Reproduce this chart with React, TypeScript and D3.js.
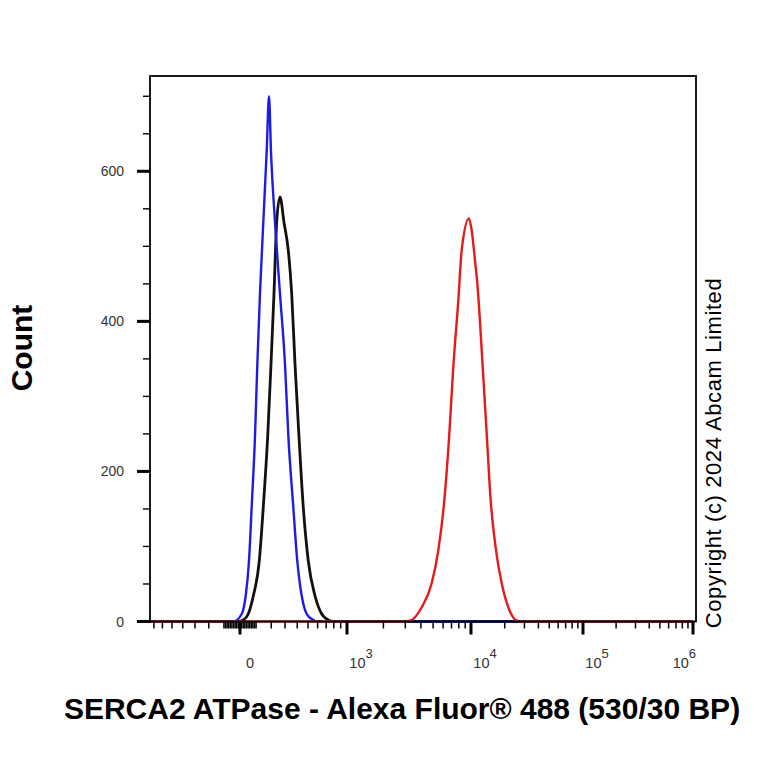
import React from "react";
import * as d3 from "d3";

// histogram traces: [fluorescence intensity, count]
const unstainedBlue: [number, number][] = [
  [-41, 0], [10.5, 10], [35, 34], [55.6, 81], [72.4, 153], [93.2, 247],
  [107.8, 342], [125, 437], [146.6, 532], [169, 627], [184.6, 700],
  [198, 627], [226, 532], [262, 437], [300, 342], [326, 247], [366, 153],
  [400, 81], [440, 34], [487, 10], [553, 2], [590, 0],
];

const isotypeBlack: [number, number][] = [
  [-10.5, 0], [20, 2], [51, 10], [82.5, 34], [120.6, 81], [146.6, 153],
  [175.8, 247], [198, 342], [219, 437], [238, 532], [262, 566], [292, 532],
  [326, 494], [353, 437], [381, 342], [415, 247], [454, 153], [502, 81],
  [572, 34], [647, 10], [727, 2], [793, 0],
];

const sercaRed: [number, number][] = [
  [2875, 0], [3271, 1], [4055, 19], [4872, 51], [5498, 95], [6137, 161],
  [6725, 250], [7235, 339], [7928, 428], [8437, 495], [9640, 537], [10146, 521],
  [10858, 481], [11384, 451], [12722, 339], [13812, 250], [14994, 161],
  [16720, 95], [18800, 51], [21530, 19], [25590, 1], [28360, 0],
];

const yMajor = [0, 200, 400, 600];
const yMinor = [50, 100, 150, 250, 300, 350, 450, 500, 550, 650, 700];
const xMajor = [0, 1e3, 1e4, 1e5, 1e6];
const xExponents = [null, 3, 4, 5, 6];

const xMin = -750;
const xMax = 1e6;
const yMax = 727;

const frame = { left: 150, top: 76, right: 696, bottom: 621.5 };

// biexponential-style display: arcsinh transform, piecewise per decade
const cofactor = 400;
const asinhT = (v: number) => Math.asinh(v / cofactor);
const decadePx = [150, 240, 347, 471, 583, 693];
const xt = d3
  .scaleLinear()
  .domain([xMin, ...xMajor].map(asinhT))
  .range(decadePx);
const x = (v: number) => xt(asinhT(v));

const y = d3.scaleLinear().domain([0, yMax]).range([frame.bottom, frame.top]);

const minorX: number[] = [];
[10, 100, 1000, 10000, 100000].forEach((p) => {
  for (let k = 1; k <= 9; k++) {
    minorX.push(k * p, -k * p);
  }
});
const xMinorTicks = minorX.filter(
  (v) => v >= xMin && v <= xMax && !xMajor.includes(v)
);

const histLine = d3
  .line<[number, number]>()
  .x((d) => x(d[0]))
  .y((d) => y(d[1]))
  .curve(d3.curveMonotoneX);

const withBaseline = (pts: [number, number][]): [number, number][] => [
  [xMin, 0],
  ...pts,
  [xMax, 0],
];

const font = "'Liberation Sans', Arial, Helvetica, sans-serif";

export default function App() {
  return (
    <svg
      width={768}
      height={768}
      style={{ display: "block", position: "absolute", left: 0, top: 0 }}
    >
      <rect width={768} height={768} fill="#fff" />

      {/* traces */}
      {[
        { data: isotypeBlack, color: "#111111", w: 2.8 },
        { data: unstainedBlue, color: "#1c1ce6", w: 2.4 },
        { data: sercaRed, color: "#e61a1a", w: 2.4 },
      ].map((s, i) => (
        <path
          key={i}
          d={histLine(withBaseline(s.data)) || ""}
          fill="none"
          stroke={s.color}
          strokeWidth={s.w}
          strokeLinejoin="round"
        />
      ))}

      {/* frame */}
      <rect
        x={frame.left}
        y={frame.top}
        width={frame.right - frame.left}
        height={frame.bottom - frame.top}
        fill="none"
        stroke="#000"
        strokeWidth={1.8}
      />

      {/* y axis */}
      {yMajor.map((v) => (
        <g key={"ym" + v}>
          <line
            x1={frame.left - 13}
            x2={frame.left}
            y1={y(v)}
            y2={y(v)}
            stroke="#000"
            strokeWidth={3}
          />
          <text
            x={frame.left - 26}
            y={y(v) + 5}
            textAnchor="end"
            fontFamily={font}
            fontSize={14}
            fill="#333"
          >
            {v}
          </text>
        </g>
      ))}
      {yMinor.map((v) => (
        <line
          key={"yn" + v}
          x1={frame.left - 7}
          x2={frame.left}
          y1={y(v)}
          y2={y(v)}
          stroke="#000"
          strokeWidth={1.4}
        />
      ))}

      {/* x axis */}
      {xMinorTicks.map((v) => (
        <line
          key={"xn" + v}
          x1={x(v)}
          x2={x(v)}
          y1={frame.bottom}
          y2={frame.bottom + 7}
          stroke="#000"
          strokeWidth={1.5}
        />
      ))}
      {xMajor.map((v, i) => {
        const exp = xExponents[i];
        const last = i === xMajor.length - 1;
        return (
          <g key={"xm" + v}>
            <line
              x1={x(v)}
              x2={x(v)}
              y1={frame.bottom}
              y2={frame.bottom + 13}
              stroke="#000"
              strokeWidth={3}
            />
            <text
              x={last ? frame.right : x(v) + (exp === null ? 10 : 14)}
              y={668}
              textAnchor={last ? "end" : "middle"}
              fontFamily={font}
              fontSize={14.5}
              fill="#333"
            >
              {exp === null ? (
                "0"
              ) : (
                <>
                  10
                  <tspan fontSize={13} dy={-10}>
                    {exp}
                  </tspan>
                </>
              )}
            </text>
          </g>
        );
      })}

      {/* axis titles */}
      <text
        x={402}
        y={719}
        textAnchor="middle"
        fontFamily={font}
        fontWeight="bold"
        fontSize={30}
        fill="#000"
      >
        SERCA2 ATPase - Alexa Fluor® 488 (530/30 BP)
      </text>
      <text
        transform="translate(32,348) rotate(-90)"
        textAnchor="middle"
        fontFamily={font}
        fontWeight="bold"
        fontSize={30}
        fill="#000"
      >
        Count
      </text>
      <text
        transform="translate(721,453) rotate(-90)"
        textAnchor="middle"
        fontFamily={font}
        fontSize={22}
        letterSpacing={0.6}
        fill="#000"
      >
        Copyright (c) 2024 Abcam Limited
      </text>
    </svg>
  );
}
